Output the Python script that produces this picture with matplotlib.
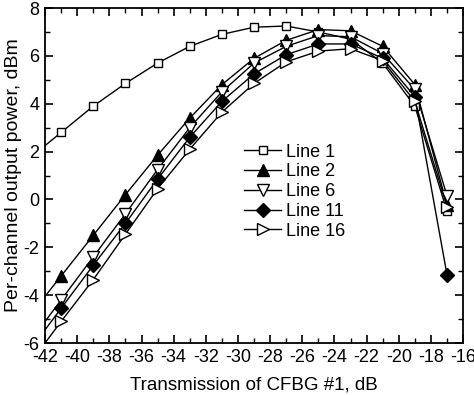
import matplotlib
matplotlib.use("Agg")
import matplotlib.pyplot as plt
from matplotlib.ticker import MultipleLocator

plt.rcParams['font.family'] = ['Liberation Sans', 'DejaVu Sans']
plt.rcParams['axes.unicode_minus'] = False

x = [-43, -41, -39, -37, -35, -33, -31, -29, -27, -25, -23, -21, -19, -17]
line1 = [1.7, 2.8, 3.9, 4.85, 5.7, 6.4, 6.9, 7.2, 7.25, 7.0, 6.7, 5.7, 3.9, -0.5]
line2 = [-4.9, -3.2, -1.5, 0.2, 1.85, 3.4, 4.8, 5.9, 6.65, 7.1, 7.05, 6.4, 4.8, -0.25]
line6 = [-6.0, -4.2, -2.4, -0.6, 1.25, 3.0, 4.5, 5.7, 6.4, 6.85, 6.8, 6.1, 4.6, 0.15]
line11 = [-6.35, -4.55, -2.75, -1.0, 0.85, 2.6, 4.1, 5.25, 6.05, 6.5, 6.5, 5.9, 4.3, -3.15]
line16 = [-6.9, -5.1, -3.35, -1.45, 0.45, 2.1, 3.65, 4.85, 5.75, 6.2, 6.3, 5.8, 4.1, -0.3]

labels = ['Line 1', 'Line 2', 'Line 6', 'Line 11', 'Line 16']
series = [line1, line2, line6, line11, line16]
markers = ['s', '^', 'v', 'D', '>']
fills = ['white', 'black', 'white', 'black', 'white']
sizes = [6, 8, 8, 7, 8]

fig = plt.figure(figsize=(4.74, 3.95), dpi=100)
ax = fig.add_axes([0.095, 0.1316, 0.882, 0.848])

for lab, ys, m, fc, ms in zip(labels, series, markers, fills, sizes):
    ax.plot(x, ys, color='black', lw=1.0, marker=m, markersize=ms,
            markerfacecolor=fc, markeredgecolor='black', markeredgewidth=1.0,
            label=lab)

ax.set_xlim(-42, -16)
ax.set_ylim(-6, 8)
ax.xaxis.set_major_locator(MultipleLocator(2))
ax.xaxis.set_minor_locator(MultipleLocator(1))
ax.yaxis.set_major_locator(MultipleLocator(2))
ax.yaxis.set_minor_locator(MultipleLocator(1))
ax.tick_params(which='both', direction='in', top=True, right=True, labelsize=13)
ax.tick_params(which='major', length=6, width=1.2, pad=4)
ax.tick_params(which='minor', length=3.5, width=1.0)
for s in ax.spines.values():
    s.set_linewidth(1.3)

ax.set_xlabel('Transmission of CFBG #1, dB', fontsize=13.5, labelpad=8)
ax.set_ylabel('Per-channel output power, dBm', fontsize=14, labelpad=1)

ax.legend(loc='upper left', bbox_to_anchor=(0.477, 0.595), frameon=False,
          fontsize=13, handlelength=2.0, handletextpad=0.3, labelspacing=0.15,
          borderaxespad=0, borderpad=0)

fig.savefig('out.png', dpi=100)
